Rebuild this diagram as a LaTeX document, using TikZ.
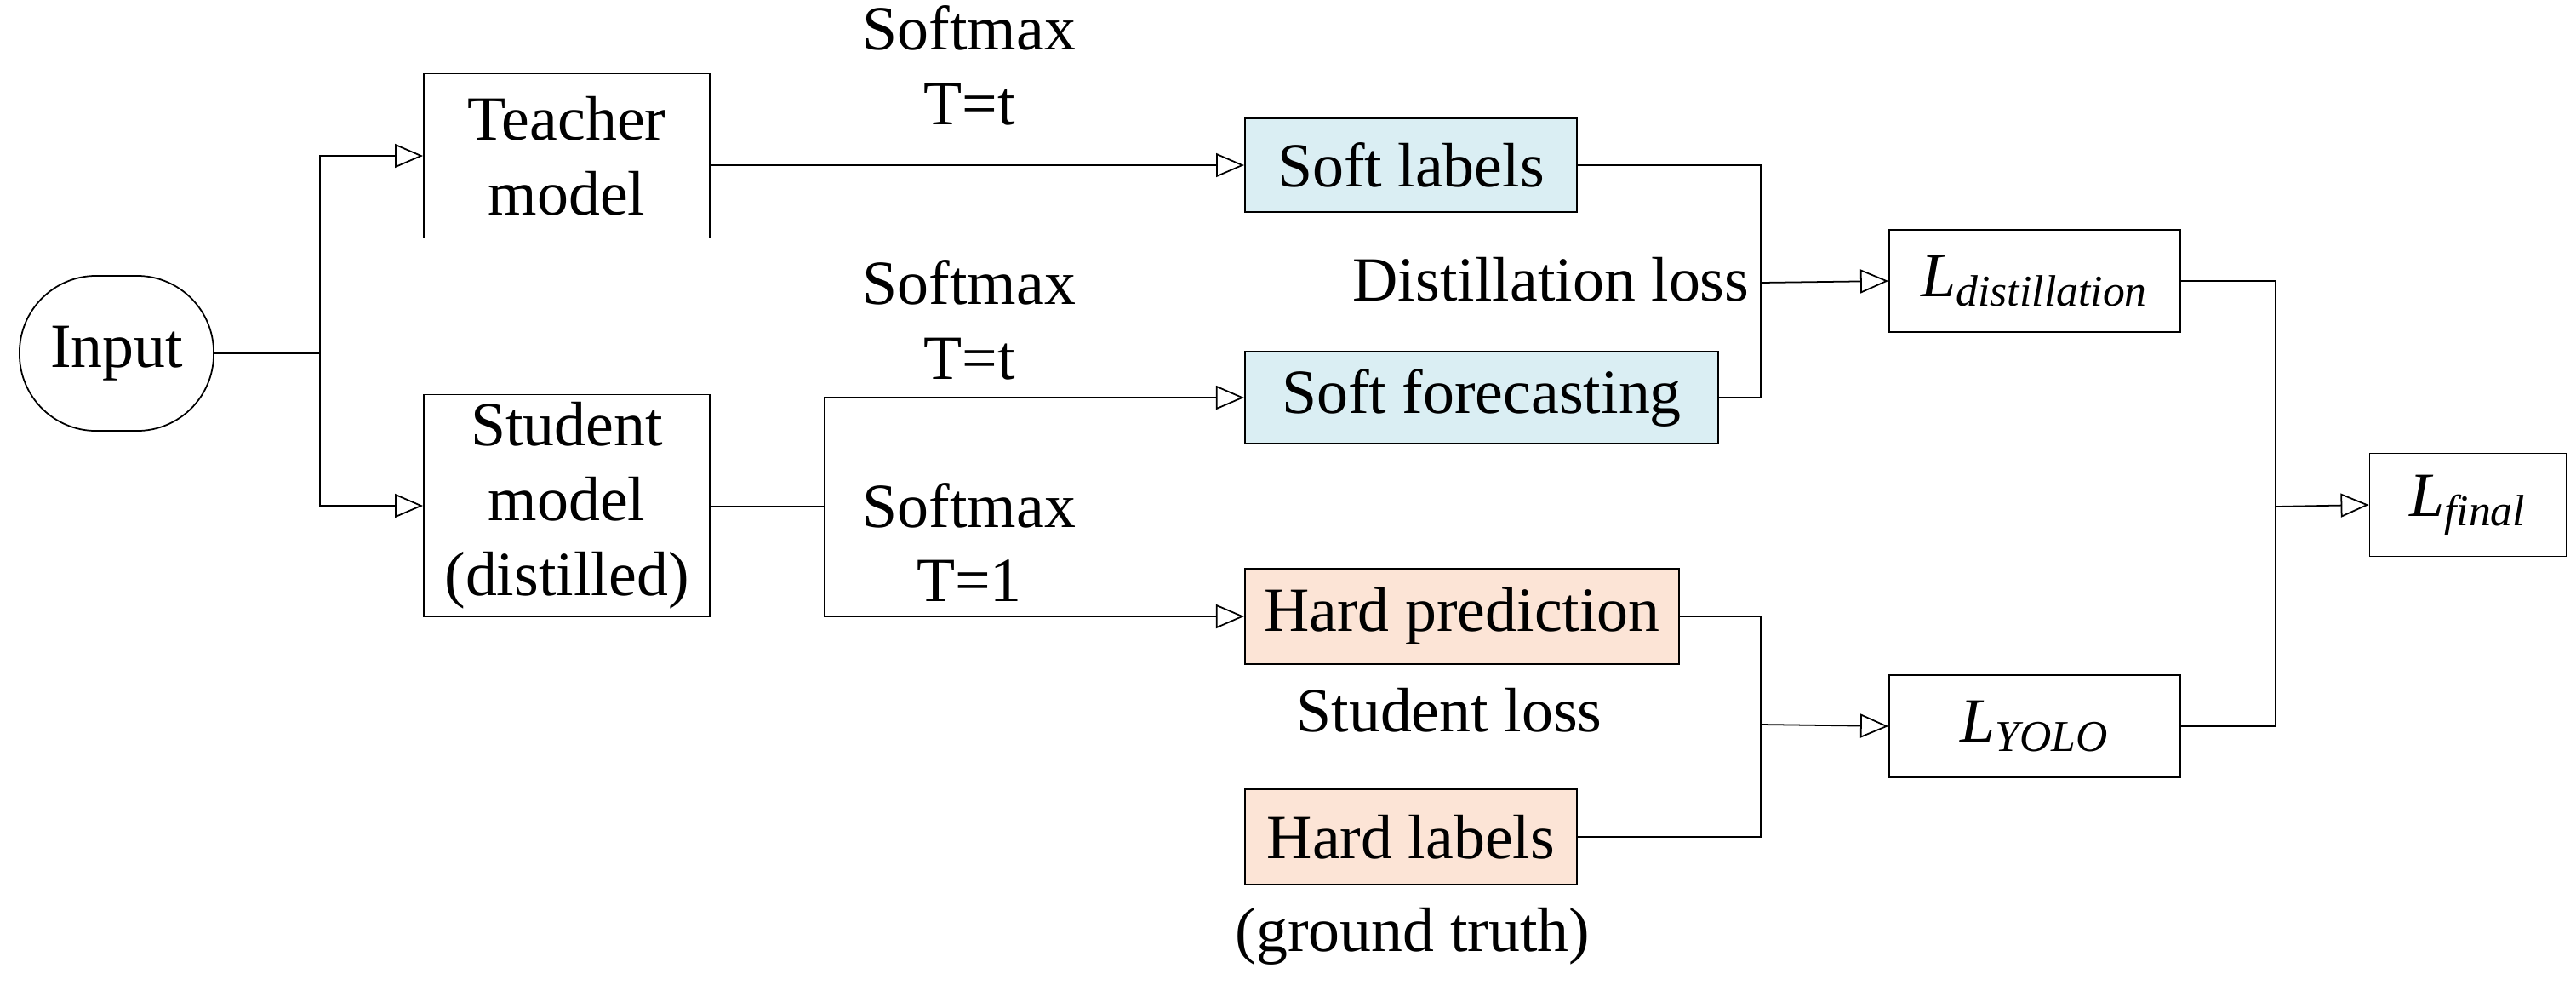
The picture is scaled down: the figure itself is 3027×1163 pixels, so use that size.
\documentclass[tikz,border=0pt]{standalone}
\usepackage{fontspec}
\setmainfont{Liberation Serif}
\usetikzlibrary{arrows.meta}
\begin{document}
\begin{tikzpicture}[x=0.01cm,y=-0.01cm,
  every node/.style={font=\fontsize{21}{25}\selectfont, inner sep=0pt},
  box/.style={draw, line width=0.5pt, align=center},
  lbl/.style={align=center},
  conn/.style={line width=0.5pt},
  arr/.style={conn, -{Triangle[open, length=0.33cm, width=0.28cm, fill=white]}}]
\definecolor{softblue}{HTML}{DAEEF3}
\definecolor{peach}{HTML}{FCE4D6}
\useasboundingbox (0,0) rectangle (3027,1163);
\node[box, rounded corners=0.9cm, minimum width=2.28cm, minimum height=1.82cm] (in) at (137,415) {Input};
\node[box, minimum width=3.36cm, minimum height=1.93cm] (tea) at (666,183) {Teacher\\model};
\node[box, minimum width=3.36cm, minimum height=2.61cm] (stu) at (666,594) {Student\\model\\(distilled)};
\node[box, fill=softblue, minimum width=3.9cm, minimum height=1.1cm] (sl) at (1658,194) {Soft labels};
\node[box, fill=softblue, minimum width=5.56cm, minimum height=1.08cm] (sf) at (1741,467) {Soft forecasting};
\node[box, fill=peach, minimum width=5.1cm, minimum height=1.12cm] (hp) at (1718,724) {Hard prediction};
\node[box, fill=peach, minimum width=3.9cm, minimum height=1.12cm] (hl) at (1658,983) {Hard labels};
\node[box, minimum width=3.42cm, minimum height=1.2cm] (ld) at (2391,330) {\textit{L}\textsubscript{\textit{distillation}}};
\node[box, minimum width=3.42cm, minimum height=1.2cm] (ly) at (2391,853) {\textit{L}\textsubscript{\textit{YOLO}}};
\node[box, minimum width=2.31cm, minimum height=1.21cm] (lf) at (2900,593) {\textit{L}\textsubscript{\textit{final}}};
\node[lbl] (t1) at (1139,77) {Softmax\\T=t};
\node[lbl] (t2) at (1139,376) {Softmax\\T=t};
\node[lbl] (t3) at (1139,637) {Softmax\\T=1};
\node[lbl, anchor=east] (dl) at (2056,328) {Distillation loss};
\node[lbl] (sloss) at (1703,834) {Student loss};
\node[lbl] (gt) at (1660,1100) {(ground truth)};
\coordinate (j1) at (376,415);
\coordinate (j2) at (969,595);
\coordinate (j3) at (2069,332);
\coordinate (j4) at (2069,851);
\coordinate (j5) at (2674,595);
\draw[conn] (in.east) -- (j1);
\draw[arr] (j1) |- (tea.west);
\draw[arr] (j1) |- (stu.west);
\draw[arr] (tea.east |- sl.west) -- (sl.west);
\draw[conn] (stu.east |- j2) -- (j2);
\draw[arr] (j2) |- (sf.west);
\draw[arr] (j2) |- (hp.west);
\draw[conn] (sl.east) -| (j3) |- (sf.east);
\draw[arr] (j3) -- (ld.west);
\draw[conn] (hp.east) -| (j4) |- (hl.east);
\draw[arr] (j4) -- (ly.west);
\draw[conn] (ld.east) -| (j5) |- (ly.east);
\draw[arr] (j5) -- (lf.west);
\end{tikzpicture}
\end{document}
